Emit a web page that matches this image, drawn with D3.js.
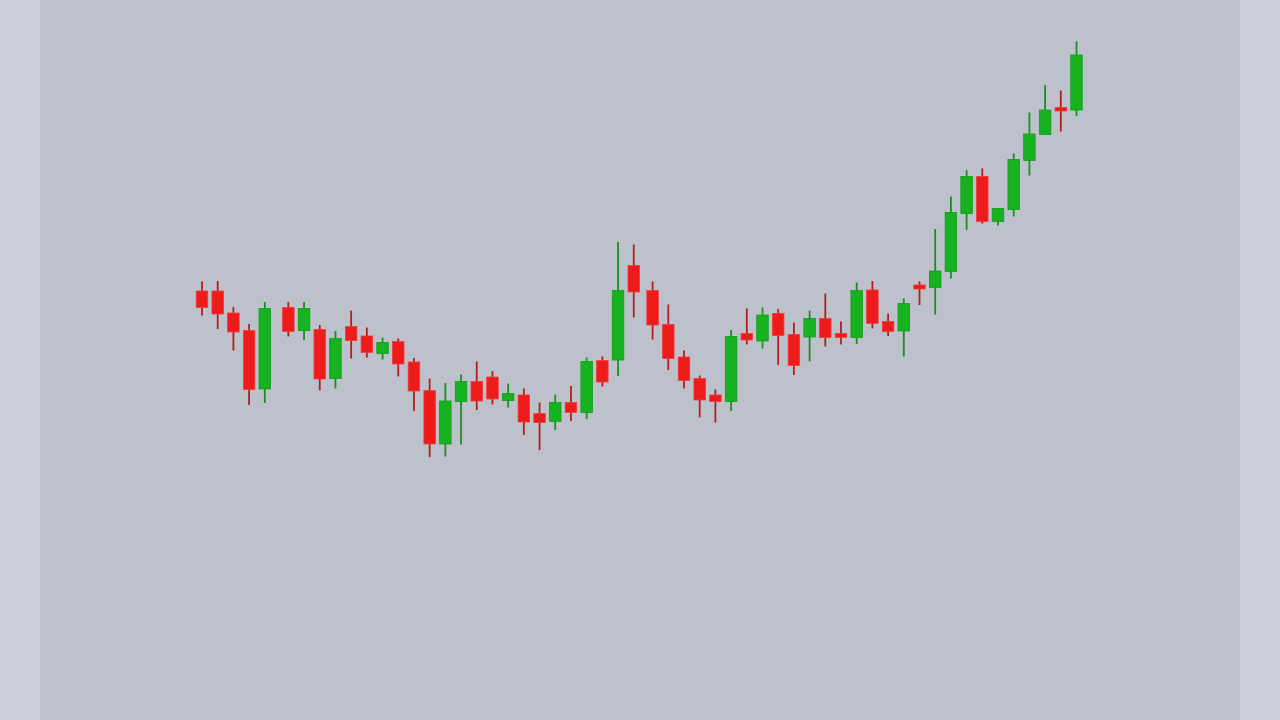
<!DOCTYPE html>
<html>
<head>
<meta charset="utf-8">
<script src="https://cdn.jsdelivr.net/npm/d3@7"></script>
<style>
  html, body { margin: 0; padding: 0; background: #c9ced8; }
  svg { display: block; }
</style>
</head>
<body>
<svg id="chart" width="1280" height="720"></svg>
<script>
// Candle OHLC values
const opens  = [61.8,61.8,57.4,53.9,42.2,58.5,53.9,54.1,44.3,54.7,52.8,49.3,51.7,47.6,41.9,31.2,39.7,43.7,44.6,39.9,41.0,37.3,35.7,39.5,37.5,47.9,48.0,66.9,61.9,55.1,48.6,44.3,41.0,39.7,53.3,51.8,57.3,53.1,52.6,56.3,53.3,52.5,62.0,55.7,53.8,63.0,62.5,65.7,77.3,84.7,75.7,78.1,87.9,93.1,98.5,98.0];
const highs  = [63.7,63.8,58.6,55.2,59.6,59.6,59.6,55.0,53.8,57.9,54.5,52.5,52.3,48.4,44.3,43.4,45.1,47.7,45.8,43.3,42.3,39.5,41.1,42.8,48.5,48.7,71.6,71.1,63.7,59.1,49.9,44.9,42.1,54.0,58.3,58.5,58.2,55.5,57.9,61.3,55.7,63.5,63.8,57.3,60.3,63.7,74.2,80.7,86.0,86.3,78.3,89.3,97.5,103.0,101.9,111.7];
const lows   = [56.9,54.2,49.9,39.0,39.4,52.7,52.0,41.9,42.3,48.3,48.5,48.1,44.7,37.8,28.6,28.7,31.1,38.0,39.1,38.5,33.0,30.0,34.0,35.8,36.2,42.7,44.8,56.5,52.1,46.0,42.3,36.5,35.5,37.8,51.1,50.3,47.0,45.0,47.7,50.7,51.1,51.2,54.3,52.8,48.7,59.0,57.1,64.3,74.0,75.3,74.9,76.7,84.9,93.0,93.7,96.8];
const closes = [58.5,57.2,53.6,42.1,58.3,53.7,58.3,44.2,52.3,51.9,49.5,51.5,47.2,41.8,31.2,39.8,43.7,39.8,40.2,41.3,35.6,35.5,39.5,37.5,47.7,43.6,61.9,61.6,55.0,48.3,43.9,40.0,39.7,52.7,52.0,57.0,52.9,46.9,56.3,52.5,52.5,61.9,55.3,53.7,59.3,62.2,65.8,77.5,84.7,75.7,78.3,88.1,93.2,98.0,97.8,109.0];
// session times (trading-day units, with two short breaks)
const times  = [0,1,2,3,4,
  5.5,6.5,7.5,8.5,9.5,10.5,11.5,12.5,13.5,14.5,15.5,16.5,17.5,18.5,19.5,20.5,21.5,22.5,23.5,24.5,25.5,26.5,27.5,
  28.7,29.7,30.7,31.7,32.7,33.7,34.7,35.7,36.7,37.7,38.7,39.7,40.7,41.7,42.7,43.7,44.7,45.7,46.7,47.7,48.7,49.7,50.7,51.7,52.7,53.7,54.7,55.7];

const candles = times.map((t, i) => ({
  t, o: opens[i], h: highs[i], l: lows[i], c: closes[i]
}));

const svg = d3.select("#chart");
const W = 1280, H = 720;

// background panels
svg.append("rect").attr("x", 0).attr("y", 0).attr("width", W).attr("height", H).attr("fill", "#c9ced8");
svg.append("rect").attr("x", 40).attr("y", 0).attr("width", 1200).attr("height", H).attr("fill", "#bcc1cb");

const x = d3.scaleLinear().domain(d3.extent(times)).range([202, 1076.5]);
const y = d3.scaleLinear().domain([0, 120]).range([600, 0]);

const bodyW = 11.5;
const up = d => d.c >= d.o;

const g = svg.append("g");

const cg = g.selectAll("g.candle").data(candles).join("g").attr("class", "candle");

// wicks
cg.append("line")
  .attr("x1", d => x(d.t)).attr("x2", d => x(d.t))
  .attr("y1", d => y(d.h)).attr("y2", d => y(d.l))
  .attr("stroke", d => up(d) ? "#1a8f22" : "#b51d1d")
  .attr("stroke-width", 1.8);

// bodies
cg.append("rect")
  .attr("x", d => x(d.t) - bodyW / 2)
  .attr("width", bodyW)
  .attr("y", d => y(Math.max(d.o, d.c)))
  .attr("height", d => Math.max(2.5, Math.abs(y(d.o) - y(d.c))))
  .attr("fill", d => up(d) ? "#17b21f" : "#ee1b1b")
  .attr("stroke", d => up(d) ? "#129c1a" : "#f23a3a")
  .attr("stroke-width", 0.8);
</script>
</body>
</html>
